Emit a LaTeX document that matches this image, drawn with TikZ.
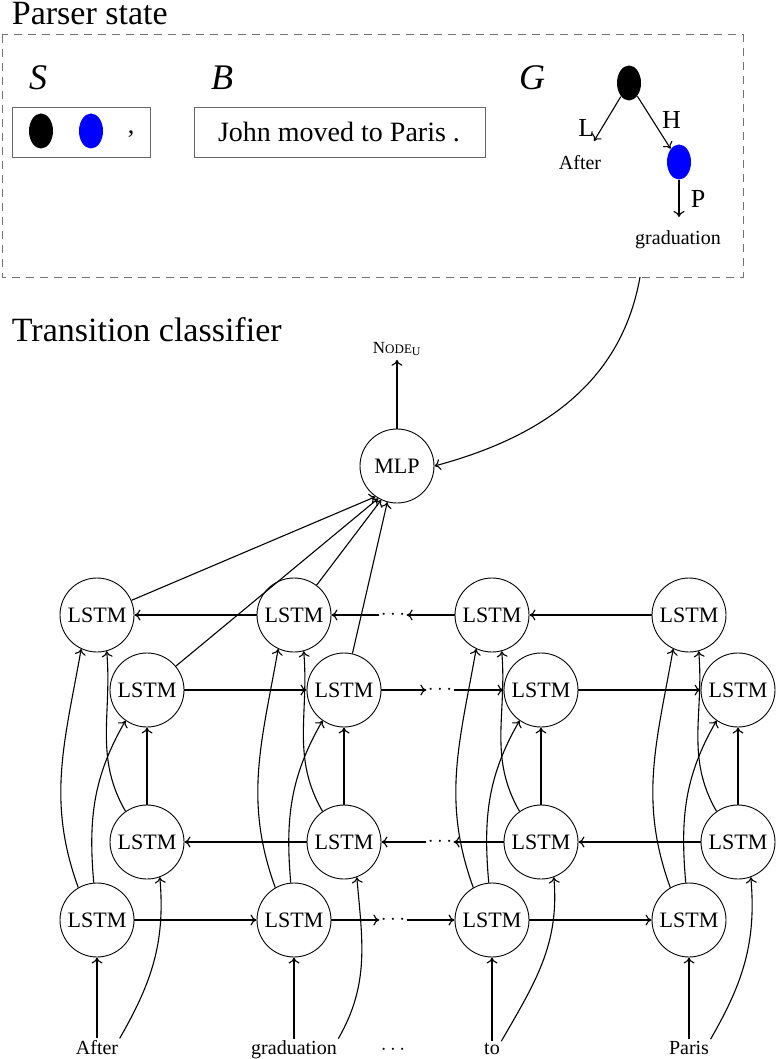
\documentclass[tikz,border=0pt]{standalone}
\usepackage{fontspec}
\setmainfont{Liberation Serif}
\usetikzlibrary{shapes.geometric,arrows.meta}
\begin{document}
\begin{tikzpicture}[x=1pt,y=-1pt,line width=1.1pt,
  lstm/.style={circle,draw,line width=0.9pt,minimum size=74pt,inner sep=0pt,font=\fontsize{22}{24}\selectfont},
  word/.style={font=\fontsize{20}{22}\selectfont,inner sep=1pt},
  ar/.style={-{To[length=6pt,width=11pt]},line width=1.1pt},
  dot/.style={ellipse,minimum width=24pt,minimum height=35pt,inner sep=0pt},
  big/.style={font=\fontsize{34}{36}\selectfont,anchor=west},
  lab/.style={font=\fontsize{26}{28}\selectfont}]
\useasboundingbox (0,0) rectangle (780,1059);
% Parser state
\node[big] (ps) at (8,14) {Parser state};
\draw[dash pattern=on 8pt off 6pt,black!55,line width=1pt] (2,35) rectangle (743,277);
\coordinate (boxb) at (640,277);
\node[font=\fontsize{36}{38}\selectfont\itshape] (S) at (38,78) {S};
\node[font=\fontsize{36}{38}\selectfont\itshape] (B) at (222,78) {B};
\node[font=\fontsize{36}{38}\selectfont\itshape] (G) at (532,78) {G};
\draw[black!60,line width=1pt] (12,108) rectangle (150,158);
\node[dot,fill=black] (s1) at (41,131) {};
\node[dot,fill=blue] (s2) at (91,131) {};
\node[lab] (comma) at (131,134) {,};
\draw[black!60,line width=1pt] (194,108) rectangle (485,158);
\node[font=\fontsize{28}{30}\selectfont] (buf) at (339,132) {John moved to Paris .};
\node[dot,fill=black] (g1) at (629,83) {};
\node[dot,fill=blue] (g2) at (679,162) {};
\coordinate (lend) at (594,141);
\node[word] (gafter) at (580,163) {After};
\draw[ar] (g1) -- (lend) node[lab,pos=0.7,left=4pt] {L};
\draw[ar] (g1) -- (g2) node[lab,pos=0.45,right=6pt] {H};
\coordinate (pend) at (679,217);
\draw[ar] (g2) -- (pend) node[lab,midway,right=8pt] {P};
\node[word] (ggrad) at (678,240) {graduation};
% Transition classifier
\node[big] (tc) at (8,330) {Transition classifier};
\node[lstm] (mlp) at (397,466) {MLP};
\node[font=\fontsize{17}{19}\selectfont] (out) at (397,349) {N{\fontsize{13}{15}\selectfont ODE}\textsubscript{U}};
\draw[ar] (mlp) -- (out);
\draw[ar] (boxb) to[out=-100,in=15] (mlp.east);
% grid
\foreach \c/\xa/\xb/\w in {1/97/147/After,2/294/344/graduation,3/492/541/to,4/689/738/Paris}{
  \node[lstm] (a\c) at (\xa,615) {LSTM};
  \node[lstm] (b\c) at (\xb,690) {LSTM};
  \node[lstm] (c\c) at (\xb,842) {LSTM};
  \node[lstm] (d\c) at (\xa,920) {LSTM};
  \node[word,anchor=base] (w\c) at (\xa,1054) {\w};
  \draw[ar] (w\c) -- (d\c);
  \draw[ar] (w\c.north east) to[out=60,in=-85] (c\c.-70);
  \draw[ar] (c\c) -- (b\c);
  \draw[ar] (d\c.120) to[out=110,in=-100] (a\c.245);
  \draw[ar] (d\c.95) to[out=95,in=-120] (b\c.235);
  \draw[ar] (c\c.125) to[out=120,in=-85] (a\c.285);
}
\node[word,anchor=base] (wd) at (393,1054) {$\cdots$};
\node[word] (da) at (393,615) {$\cdots$};
\node[word] (db) at (440,690) {$\cdots$};
\node[word] (dc) at (440,842) {$\cdots$};
\node[word] (dd) at (393,920) {$\cdots$};
% horizontal
\draw[ar] (d1) -- (d2); \draw[ar] (d2) -- (dd); \draw[ar] (dd) -- (d3); \draw[ar] (d3) -- (d4);
\draw[ar] (b1) -- (b2); \draw[ar] (b2) -- (db); \draw[ar] (db) -- (b3); \draw[ar] (b3) -- (b4);
\draw[ar] (c4) -- (c3); \draw[ar] (c3) -- (dc); \draw[ar] (dc) -- (c2); \draw[ar] (c2) -- (c1);
\draw[ar] (a4) -- (a3); \draw[ar] (a3) -- (da); \draw[ar] (da) -- (a2); \draw[ar] (a2) -- (a1);
% to MLP
\draw[ar] (a1) -- (mlp.235);
\draw[ar] (b1) -- (mlp.240);
\draw[ar] (a2) -- (mlp.245);
\draw[ar] (b2) -- (mlp.255);
\end{tikzpicture}
\end{document}
